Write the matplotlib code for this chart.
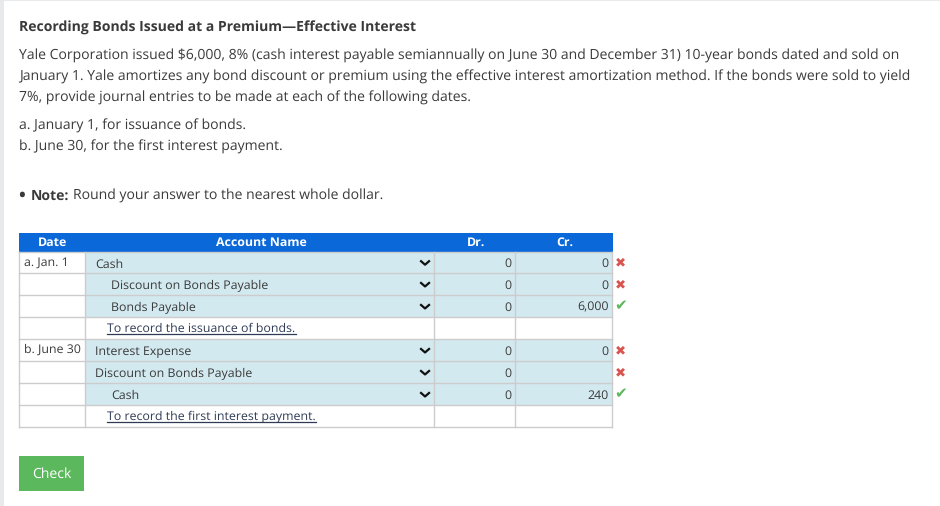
import matplotlib
matplotlib.use("Agg")
import matplotlib.pyplot as plt
from matplotlib.patches import Rectangle

plt.rcParams['font.family'] = ['Open Sans', 'DejaVu Sans']
plt.rcParams['text.hinting'] = 'no_hinting'

title = "Recording Bonds Issued at a Premium\u2014Effective Interest"
paragraph = [
    "Yale Corporation issued $6,000, 8% (cash interest payable semiannually on June 30 and December 31) 10-year bonds dated and sold on",
    "January 1. Yale amortizes any bond discount or premium using the effective interest amortization method. If the bonds were sold to yield",
    "7%, provide journal entries to be made at each of the following dates.",
]
parts = ["a. January 1, for issuance of bonds.", "b. June 30, for the first interest payment."]
note_bullet = "\u2022"
note_bold = "Note:"
note_rest = "Round your answer to the nearest whole dollar."
headers = ["Date", "Account Name", "Dr.", "Cr."]
dates = ["a. Jan. 1", "", "", "", "b. June 30", "", "", ""]
accounts = ["Cash", "Discount on Bonds Payable", "Bonds Payable", "To record the issuance of bonds.",
            "Interest Expense", "Discount on Bonds Payable", "Cash", "To record the first interest payment."]
indent = [0, 1, 1, 2, 0, 0, 1, 2]
debits = ["0", "0", "0", "", "0", "0", "0", ""]
credits = ["0", "0", "6,000", "", "0", "", "240", ""]
status = ["x", "x", "c", "", "x", "x", "c", ""]
button = "Check"

col_x = [19.2, 85.2, 434.2, 515.2, 612.2]
row_y = [252, 273.5, 295.5, 317.5, 339.5, 361.5, 383.5, 405.5, 427.5]
BLUE, CELL, LINE, TXT = "#0a68d9", "#d3e9f0", "#cccccc", "#3a3a3a"
FS = 10.05; FT = 8.95

fig = plt.figure(figsize=(9.401, 5.061), dpi=100)
ax = fig.add_axes([0, 0, 1, 1])
ax.set_xlim(0, 940); ax.set_ylim(506, 0); ax.axis("off")

ax.add_patch(Rectangle((0, 0), 940, 1.5, color="#e8e9eb", lw=0))
ax.add_patch(Rectangle((0, 0), 3.5, 506, color="#e8e9eb", lw=0))

ax.text(19, 27.5, title, fontsize=10.05, fontweight="bold", color=TXT, va="center")
for i, line in enumerate(paragraph):
    ax.text(19, 56 + 21 * i, line, fontsize=FS, color=TXT, va="center")
for i, line in enumerate(parts):
    ax.text(19, 126 + 20.5 * i, line, fontsize=FS, color=TXT, va="center")
ax.text(18.5, 196, note_bullet, fontsize=13, fontweight="bold", color=TXT, va="center")
ax.text(31, 196, note_bold, fontsize=FS, fontweight="bold", color=TXT, va="center")
ax.text(73, 196, note_rest, fontsize=FS, color=TXT, va="center")

ax.add_patch(Rectangle((19, 233), 594, row_y[0] - 233, color=BLUE, lw=0))
centers = [53, 261, 475.5, 564.5]
for cx, h in zip(centers, headers):
    ax.text(cx, 243, h, fontsize=FT, fontweight="bold", color="white", ha="center", va="center")

for r in range(8):
    top, bot = row_y[r], row_y[r + 1]
    mid = (top + bot) / 2
    if indent[r] != 2:
        ax.add_patch(Rectangle((col_x[1], top), col_x[-1] - col_x[1], bot - top, color=CELL, lw=0))
    ax.text(23.5, mid - 0.5, dates[r], fontsize=FT, color=TXT, va="center")
    if indent[r] == 2:
        ax.text(107, mid, accounts[r], fontsize=FT, color="#2f3b55", va="center")
        ax.plot([107, 295.5 if r == 3 else 315.5], [mid + 6, mid + 6], color="#2f3b55", lw=0.9)
    else:
        ax.text(111 if indent[r] else 95, mid + 1.5, accounts[r], fontsize=FT, color=TXT, va="center")
        ax.plot([421, 425, 429], [mid - 1.5, mid + 2, mid - 1.5], color="#111111", lw=1.6)
    ax.text(511, mid + 1, debits[r], fontsize=FT, color=TXT, ha="right", va="center")
    ax.text(608.5, mid + 1, credits[r], fontsize=FT, color=TXT, ha="right", va="center")
    if status[r] == "x":
        ax.text(620.5, mid, "\u2716", family="DejaVu Sans", fontsize=9.5, color="#d9534f", ha="center", va="center")
    elif status[r] == "c":
        ax.text(621, mid, "\u2714", family="DejaVu Sans", fontsize=11, color="#5cb85c", ha="center", va="center")

for y in row_y:
    ax.plot([col_x[0], col_x[-1]], [y, y], color=LINE, lw=1)
for x in col_x:
    ax.plot([x, x], [row_y[0], row_y[-1]], color=LINE, lw=1)

ax.add_patch(Rectangle((19, 456), 65, 35, color="#5cb85c", lw=0))
ax.text(51.5, 474.5, button, fontsize=FS, color="white", ha="center", va="center")

fig.savefig("out.png", dpi=100)
